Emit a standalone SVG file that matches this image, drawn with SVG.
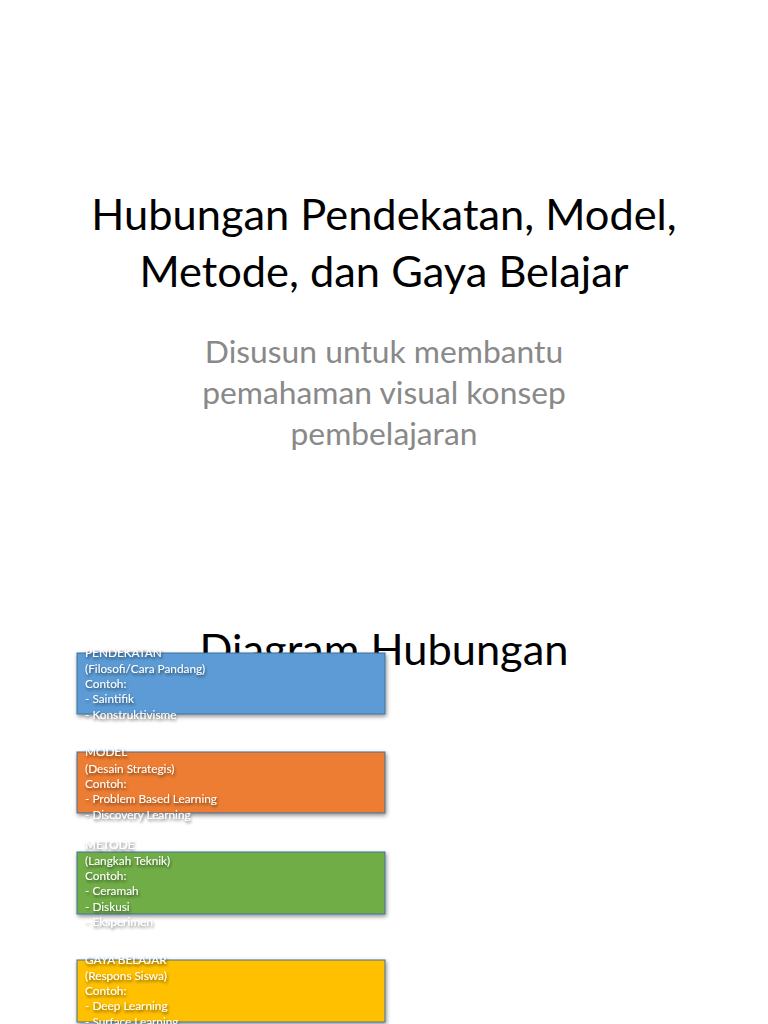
<svg xmlns="http://www.w3.org/2000/svg" width="768" height="1024" viewBox="0 0 768 1024">
<defs>
<filter id="boxsh" x="-10%" y="-20%" width="120%" height="150%">
<feGaussianBlur in="SourceAlpha" stdDeviation="2"/>
<feOffset dx="1" dy="2" result="b"/>
<feComponentTransfer><feFuncA type="linear" slope="0.45"/></feComponentTransfer>
<feMerge><feMergeNode/><feMergeNode in="SourceGraphic"/></feMerge>
</filter>
<filter id="txsh" x="-10%" y="-20%" width="130%" height="160%">
<feGaussianBlur in="SourceAlpha" stdDeviation="1.5"/>
<feOffset dx="1" dy="1.5" result="b"/>
<feComponentTransfer><feFuncA type="linear" slope="0.55"/></feComponentTransfer>
<feMerge><feMergeNode/><feMergeNode in="SourceGraphic"/></feMerge>
</filter>
</defs>
<style>
.ttl{font-family:Lato,"Liberation Sans",sans-serif;font-size:43.4px;fill:#000;text-anchor:middle}
.sub{font-family:Lato,"Liberation Sans",sans-serif;font-size:31.8px;fill:#898989;text-anchor:middle}
.box{stroke:#41719c;stroke-width:1}
.bt{font-family:Lato,"Liberation Sans",sans-serif;font-size:11.8px;fill:#fff}
</style>
<rect width="768" height="1024" fill="#fff"/>
<g id="title">
<text class="ttl" x="384" y="230">Hubungan Pendekatan, Model,</text>
<text class="ttl" x="384" y="287">Metode, dan Gaya Belajar</text>
</g>
<g id="subtitle">
<text class="sub" x="384" y="363">Disusun untuk membantu</text>
<text class="sub" x="384" y="404">pemahaman visual konsep</text>
<text class="sub" x="384" y="445">pembelajaran</text>
</g>
<text class="ttl" x="384" y="665">Diagram Hubungan</text>
<g id="pendekatan">
<rect class="box" x="77" y="653" width="308" height="61" fill="#5b9bd5" filter="url(#boxsh)"/>
<g class="bt" filter="url(#txsh)">
<text x="85" y="657">PENDEKATAN</text>
<text x="85" y="673">(Filosofi/Cara Pandang)</text>
<text x="85" y="688">Contoh:</text>
<text x="85" y="703">- Saintifik</text>
<text x="85" y="719">- Konstruktivisme</text>
</g>
</g>
<g id="model">
<rect class="box" x="77" y="752" width="308" height="61" fill="#ed7d31" filter="url(#boxsh)"/>
<g class="bt" filter="url(#txsh)">
<text x="85" y="756">MODEL</text>
<text x="85" y="773">(Desain Strategis)</text>
<text x="85" y="788">Contoh:</text>
<text x="85" y="803">- Problem Based Learning</text>
<text x="85" y="819">- Discovery Learning</text>
</g>
</g>
<g id="metode">
<rect class="box" x="77" y="852" width="308" height="62" fill="#70ad47" filter="url(#boxsh)"/>
<g class="bt" filter="url(#txsh)">
<text x="85" y="849">METODE</text>
<text x="85" y="865">(Langkah Teknik)</text>
<text x="85" y="880">Contoh:</text>
<text x="85" y="895">- Ceramah</text>
<text x="85" y="911">- Diskusi</text>
<text x="85" y="926">- Eksperimen</text>
</g>
</g>
<g id="gaya">
<rect class="box" x="77" y="960" width="308" height="62" fill="#ffc000" filter="url(#boxsh)"/>
<g class="bt" filter="url(#txsh)">
<text x="85" y="964">GAYA BELAJAR</text>
<text x="85" y="980">(Respons Siswa)</text>
<text x="85" y="995">Contoh:</text>
<text x="85" y="1010">- Deep Learning</text>
<text x="85" y="1026">- Surface Learning</text>
</g>
</g>
<g id="connectors"/>
</svg>
